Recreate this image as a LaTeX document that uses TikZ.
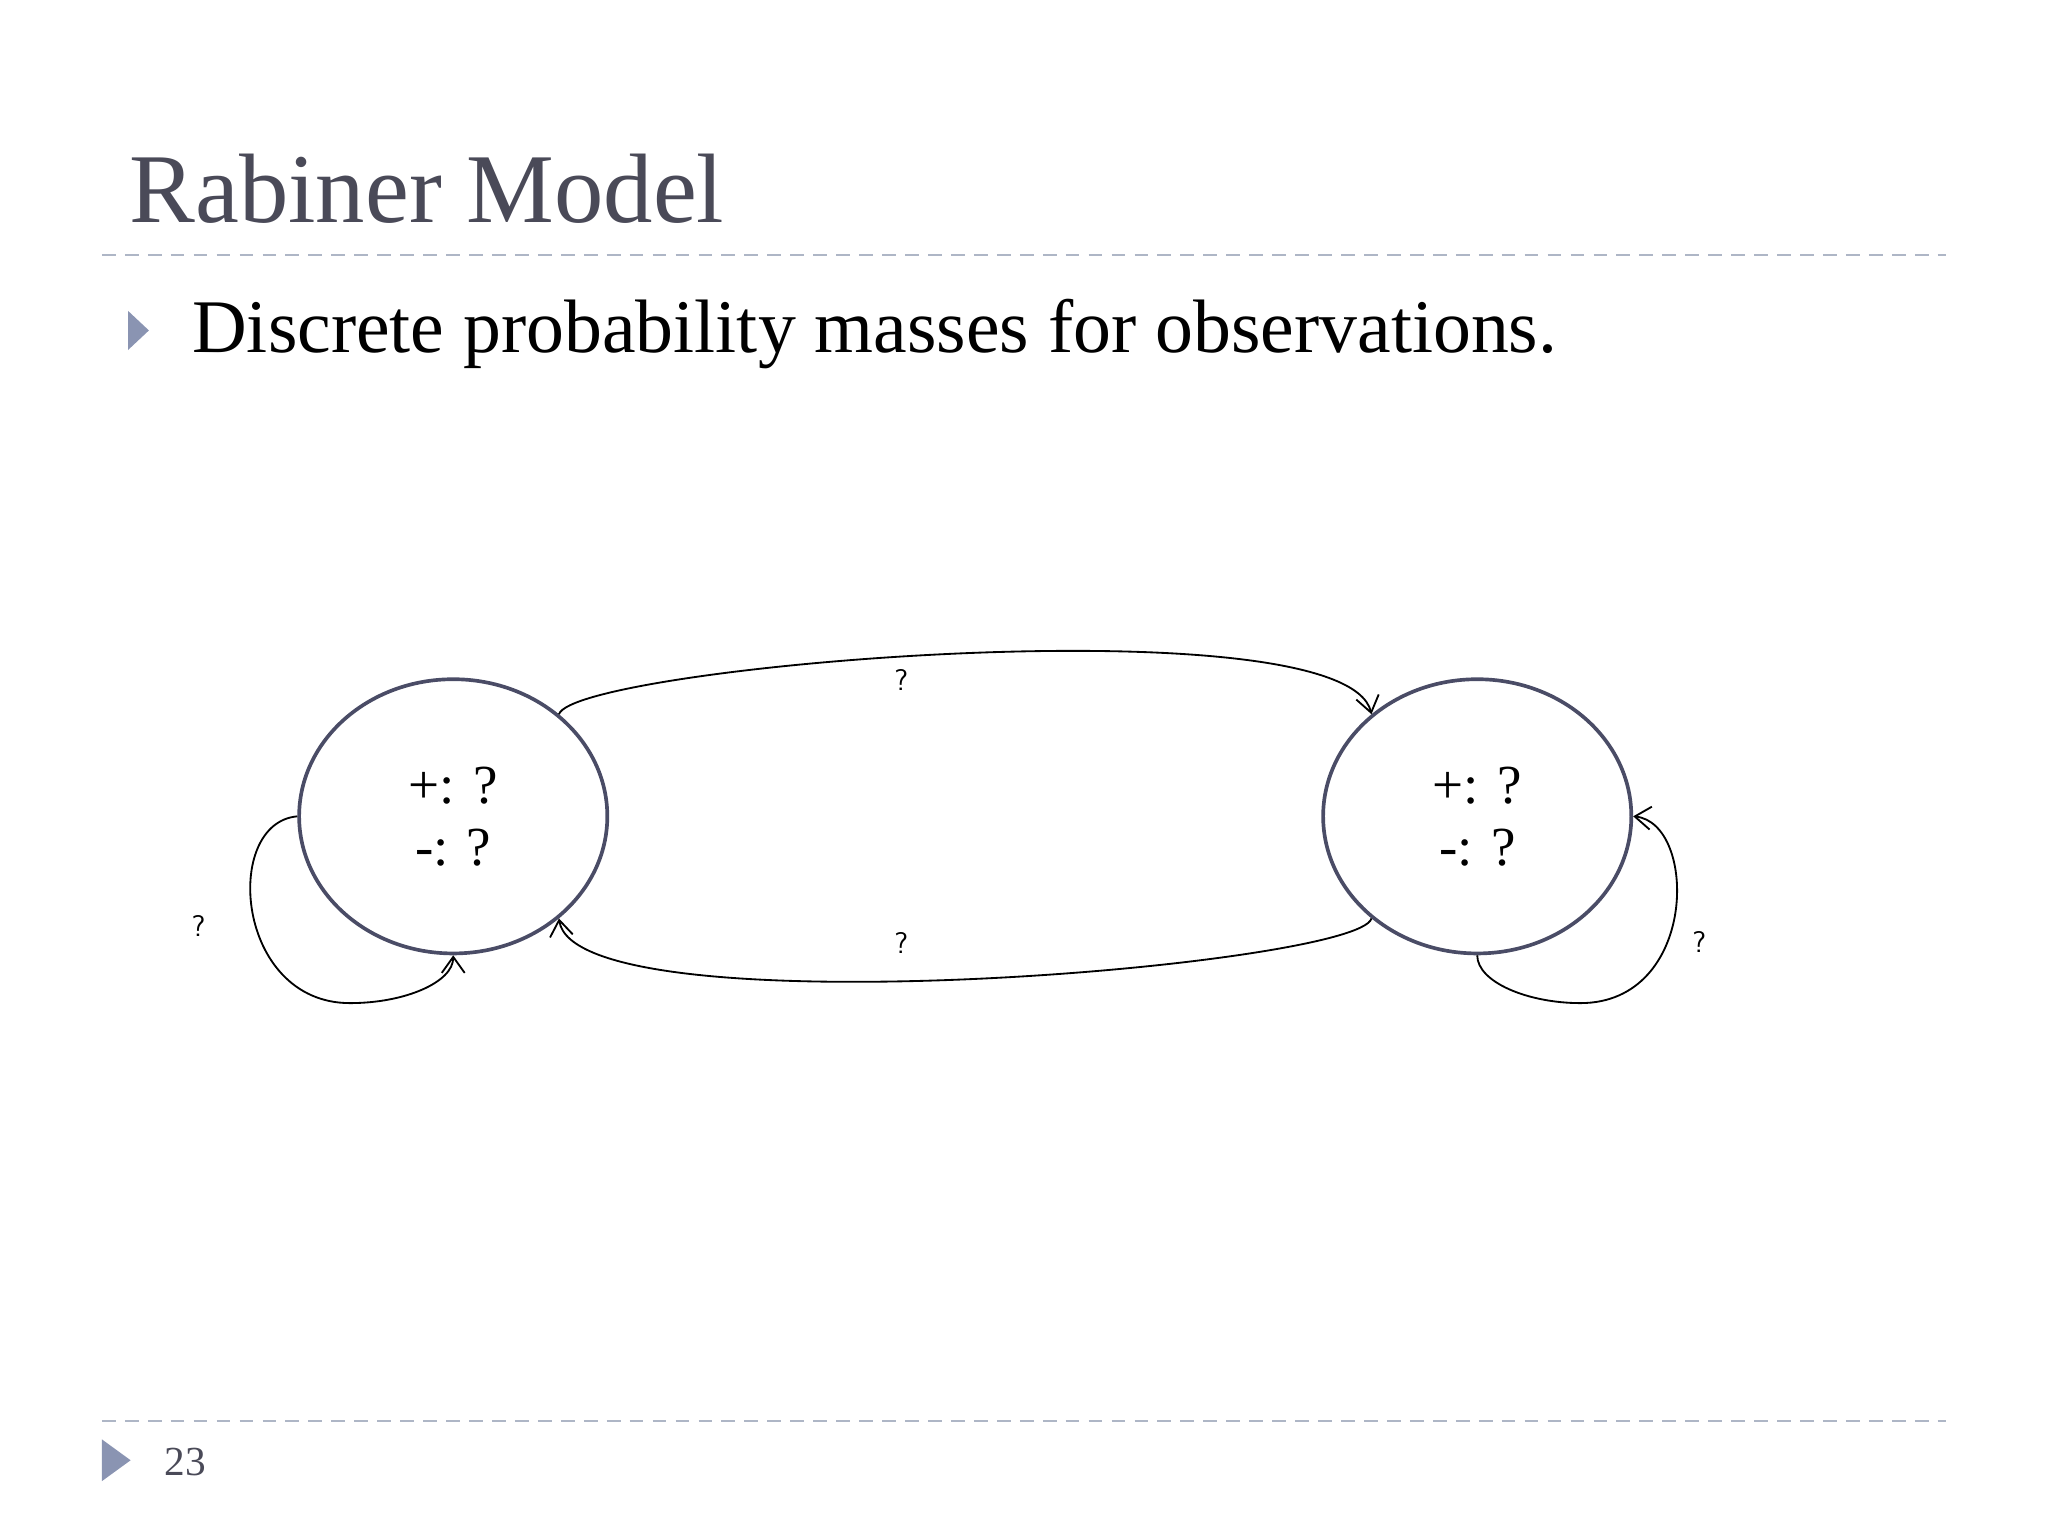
\documentclass[tikz,border=0pt]{standalone}
\usepackage{fontspec}
\setmainfont{Liberation Serif}
\usetikzlibrary{shapes.geometric,arrows.meta}
\definecolor{titlec}{HTML}{4A4A58}
\definecolor{ellc}{HTML}{4A4C66}
\definecolor{dashc}{HTML}{AEB6C6}
\definecolor{tric}{HTML}{8A94B2}
\begin{document}
\begin{tikzpicture}[x=0.02cm,y=-0.02cm,
  st/.style={ellipse,draw=ellc,line width=1.6pt,minimum width=4.72cm,minimum height=4.2cm,inner sep=0pt,align=center,font=\fontsize{24}{27}\selectfont},
  edge/.style={line width=0.8pt,-{Straight Barb[length=7pt,width=10pt]}},
  lab/.style={font=\sffamily\fontsize{13}{15}\selectfont},
  sep/.style={dashc,dashed,line width=0.8pt,dash pattern=on 6pt off 4pt}]
\useasboundingbox (0,0) rectangle (1568,1176);
\node[anchor=base west,text=titlec,font=\fontsize{43}{50}\selectfont] (title) at (93,170) {Rabiner Model};
\draw[sep] (78,195) -- (1490,195);
\draw[sep] (78,1088) -- (1490,1088);
\fill[tric] (98,238) -- (114,253) -- (98,268) -- cycle;
\node[anchor=base west,font=\fontsize{33}{40}\selectfont] (bul) at (141,270) {Discrete probability masses for observations.};
\fill[tric] (78,1102) -- (100,1118) -- (78,1134) -- cycle;
\node[anchor=base west,text=titlec,font=\fontsize{18}{22}\selectfont] (pg) at (120,1130) {23};
\node[st] (L) at (347,625) {+: ?\\-: ?};
\node[st] (R) at (1131,625) {+: ?\\-: ?};
\draw[edge] (L.44) .. controls (440,510) and (1030,460) .. (R.136);
\draw[edge] (R.224) .. controls (1040,740) and (440,790) .. (L.316);
\draw[edge] (L.180) .. controls (170,630) and (180,768) .. (268,768) .. controls (310,768) and (347,752) .. (L.270);
\draw[edge] (R.270) .. controls (1131,752) and (1170,768) .. (1210,768) .. controls (1300,768) and (1300,630) .. (R.0);
\node[lab] (t1) at (690,521) {?};
\node[lab] (t2) at (690,722) {?};
\node[lab] (t3) at (152,709) {?};
\node[lab] (t4) at (1301,721) {?};
\end{tikzpicture}
\end{document}
